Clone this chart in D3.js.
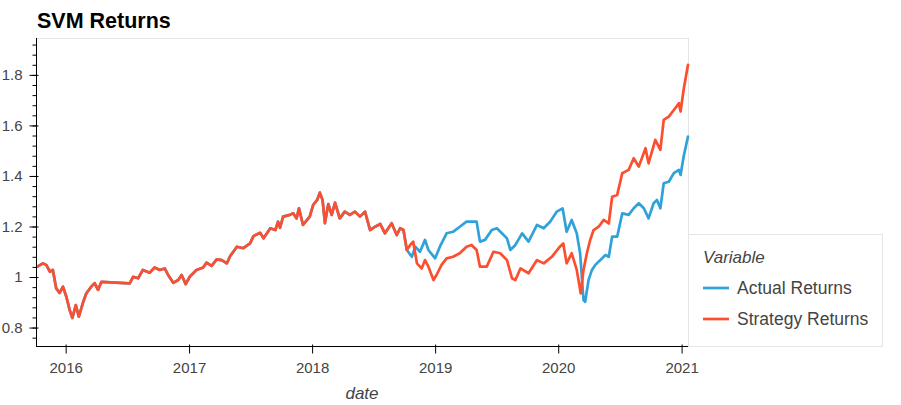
<!DOCTYPE html>
<html>
<head>
<meta charset="utf-8">
<script src="https://cdn.jsdelivr.net/npm/d3@7"></script>
<style>
  html, body { margin: 0; padding: 0; background: #fff; }
  svg { display: block; font-family: "Liberation Sans", Arial, sans-serif; }
</style>
</head>
<body>
<svg id="chart" width="901" height="405"></svg>
<script>
// ---------------- DATA ----------------
const title = "SVM Returns";
const xLabel = "date";
const legendTitle = "Variable";
const seriesNames = ["Actual Returns", "Strategy Returns"];
const seriesColors = ["#30a2da", "#fc4f30"];

// identical part of both series (before they diverge)
const sharedDates = [
  "2015-10-05","2015-10-26","2015-11-05","2015-11-15","2015-11-24","2015-12-04","2015-12-14","2015-12-24",
  "2016-01-03","2016-01-13","2016-01-21","2016-01-31","2016-02-09","2016-02-21","2016-03-02","2016-03-17",
  "2016-03-27","2016-04-06","2016-04-16","2016-07-09","2016-07-19","2016-08-03","2016-08-17","2016-09-06",
  "2016-09-21","2016-10-06","2016-10-21","2016-10-31","2016-11-15","2016-11-30","2016-12-10","2016-12-22",
  "2017-01-03","2017-01-23","2017-02-12","2017-02-22","2017-03-09","2017-03-24","2017-04-08","2017-04-23",
  "2017-05-03","2017-05-23","2017-06-11","2017-07-01","2017-07-11","2017-07-31","2017-08-10","2017-08-30",
  "2017-09-14","2017-09-22","2017-09-28","2017-10-07","2017-10-27","2017-11-06","2017-11-16","2017-11-23",
  "2017-12-05","2017-12-25","2018-01-04","2018-01-16","2018-01-24","2018-02-01","2018-02-08","2018-02-18",
  "2018-02-28","2018-03-10","2018-03-24","2018-04-08","2018-04-23","2018-05-08","2018-05-23","2018-06-07",
  "2018-06-22","2018-07-07","2018-07-22","2018-08-05","2018-08-25","2018-09-09","2018-09-19","2018-09-29",
  "2018-10-09"
];
const sharedValues = [
  1.038,1.054,1.047,1.021,1.028,0.955,0.937,0.962,
  0.922,0.869,0.838,0.889,0.843,0.897,0.935,0.962,
  0.976,0.949,0.981,0.975,1.001,0.995,1.028,1.017,
  1.038,1.028,1.034,1.008,0.977,0.988,1.008,0.972,
  1.001,1.028,1.038,1.057,1.044,1.070,1.067,1.054,
  1.083,1.120,1.114,1.133,1.162,1.175,1.153,1.193,
  1.186,1.219,1.195,1.239,1.246,1.252,1.232,1.272,
  1.206,1.239,1.285,1.305,1.334,1.305,1.213,1.289,
  1.246,1.294,1.232,1.259,1.246,1.259,1.239,1.259,
  1.186,1.199,1.210,1.173,1.213,1.166,1.193,1.186,
  1.107
];

const actualDates = [
  "2018-10-24","2018-11-03","2018-11-17","2018-12-02","2018-12-12","2019-01-01","2019-01-15","2019-02-04",
  "2019-02-23","2019-03-15","2019-04-04","2019-04-19","2019-05-04","2019-05-14","2019-05-29","2019-06-18",
  "2019-07-03","2019-07-18","2019-08-02","2019-08-12","2019-08-27","2019-09-16","2019-10-05","2019-10-30",
  "2019-11-19","2019-12-08","2019-12-28","2020-01-14","2020-01-26","2020-02-10","2020-02-25","2020-03-06",
  "2020-03-16","2020-03-21","2020-03-31","2020-04-10","2020-04-20","2020-05-05","2020-05-20","2020-05-30",
  "2020-06-09","2020-06-24","2020-07-09","2020-07-28","2020-08-12","2020-08-27","2020-09-11","2020-09-25",
  "2020-10-10","2020-10-20","2020-10-30","2020-11-09","2020-11-24","2020-12-09","2020-12-24","2020-12-29",
  "2021-01-07","2021-01-20"
];
const actualValues = [
  1.080,1.120,1.100,1.147,1.107,1.074,1.120,1.173,
  1.179,1.199,1.219,1.219,1.219,1.140,1.147,1.186,
  1.193,1.173,1.153,1.107,1.127,1.173,1.140,1.206,
  1.193,1.219,1.259,1.272,1.179,1.226,1.173,1.094,
  0.909,0.902,0.988,1.028,1.048,1.067,1.087,1.080,
  1.160,1.160,1.252,1.246,1.272,1.292,1.272,1.232,
  1.292,1.305,1.272,1.371,1.377,1.411,1.424,1.404,
  1.476,1.556
];

const strategyDates = [
  "2018-10-19","2018-10-28","2018-11-08","2018-11-22","2018-12-02","2018-12-12","2018-12-27","2019-01-05",
  "2019-01-20","2019-02-04","2019-02-23","2019-03-15","2019-04-04","2019-04-19","2019-05-04","2019-05-14",
  "2019-06-03","2019-06-23","2019-07-13","2019-08-02","2019-08-17","2019-08-27","2019-09-11","2019-10-05",
  "2019-10-30","2019-11-19","2019-12-13","2020-01-06","2020-01-16","2020-01-26","2020-02-10","2020-02-25",
  "2020-03-08","2020-03-16","2020-03-26","2020-04-05","2020-04-15","2020-04-30","2020-05-15","2020-05-30",
  "2020-06-09","2020-06-24","2020-07-09","2020-07-28","2020-08-12","2020-08-27","2020-09-16","2020-09-25",
  "2020-10-15","2020-10-30","2020-11-09","2020-11-24","2020-12-09","2020-12-24","2020-12-29","2021-01-07",
  "2021-01-20"
];
const strategyValues = [
  1.127,1.140,1.054,1.034,1.067,1.041,0.988,1.008,
  1.048,1.074,1.080,1.094,1.120,1.127,1.107,1.041,
  1.041,1.100,1.094,1.067,0.995,0.988,1.034,1.015,
  1.067,1.054,1.080,1.120,1.133,1.054,1.094,1.028,
  0.935,1.028,1.094,1.147,1.186,1.199,1.226,1.212,
  1.318,1.325,1.411,1.424,1.470,1.437,1.510,1.450,
  1.543,1.503,1.622,1.635,1.661,1.688,1.655,1.741,
  1.840
];

const yTickValues = [0.8, 1.0, 1.2, 1.4, 1.6, 1.8];
const yTickLabels = ["0.8", "1", "1.2", "1.4", "1.6", "1.8"];
const xTickYears = [2016, 2017, 2018, 2019, 2020, 2021];
const xTickLabels = ["2016", "2017", "2018", "2019", "2020", "2021"];
const yDomain = [0.727, 1.946];

// ---------------- BUILD ----------------
const parse = d3.utcParse("%Y-%m-%d");
function mk(dates, values) { return dates.map((d, i) => ({ date: parse(d), value: values[i] })); }
const series = [
  mk(sharedDates.concat(actualDates), sharedValues.concat(actualValues)),
  mk(sharedDates.concat(strategyDates), sharedValues.concat(strategyValues))
];

const svg = d3.select("#chart");
const plot = { left: 36, right: 688, top: 38, bottom: 346 };

svg.append("rect").attr("width", 901).attr("height", 405).attr("fill", "#fff");

const allDates = series.flat().map(d => d.date);
const x = d3.scaleUtc().domain(d3.extent(allDates)).range([plot.left, plot.right]);
const y = d3.scaleLinear().domain(yDomain).range([plot.bottom, plot.top]);

// plot outline
svg.append("rect")
  .attr("x", plot.left + 0.5).attr("y", plot.top + 0.5)
  .attr("width", plot.right - plot.left).attr("height", plot.bottom - plot.top)
  .attr("fill", "none").attr("stroke", "#e5e5e5").attr("stroke-width", 1);

// lines
svg.append("clipPath").attr("id", "clip").append("rect")
  .attr("x", plot.left).attr("y", plot.top)
  .attr("width", plot.right - plot.left + 2).attr("height", plot.bottom - plot.top);
const line = d3.line().x(d => x(d.date)).y(d => y(d.value));
const lg = svg.append("g").attr("clip-path", "url(#clip)");
series.forEach((s, i) => {
  lg.append("path").datum(s)
    .attr("d", line)
    .attr("fill", "none")
    .attr("stroke", seriesColors[i])
    .attr("stroke-width", 2.7)
    .attr("stroke-linejoin", "round")
    .attr("stroke-linecap", "round");
});

// y axis
const yMinor = d3.range(0.76, 1.93, 0.04).map(v => +v.toFixed(2))
  .filter(v => v >= yDomain[0] && v <= yDomain[1]);
const yMinorAxis = svg.append("g").attr("transform", `translate(${plot.left + 0.5},0)`)
  .call(d3.axisLeft(y).tickValues(yMinor).tickSize(4).tickSizeOuter(0).tickFormat(""));
yMinorAxis.select(".domain").remove();
yMinorAxis.selectAll("line").attr("stroke", "#000");

const yAxis = svg.append("g").attr("transform", `translate(${plot.left + 0.5},0)`)
  .call(d3.axisLeft(y).tickValues(yTickValues).tickSize(7).tickSizeOuter(0).tickPadding(6)
    .tickFormat((d, i) => yTickLabels[i]));
yAxis.select(".domain").attr("stroke", "#000").attr("d", `M0,${plot.top}V${plot.bottom + 0.5}`);
yAxis.selectAll(".tick line").attr("stroke", "#000").attr("x1", 2);
yAxis.selectAll(".tick text").attr("fill", "#444").style("font-size", "15px")
  .attr("font-family", "Liberation Sans, Arial, sans-serif").attr("x", -14);

// x axis
const xTickDates = xTickYears.map(yv => new Date(Date.UTC(yv, 0, 1)));
const xAxis = svg.append("g").attr("transform", `translate(0,${plot.bottom + 0.5})`)
  .call(d3.axisBottom(x).tickValues(xTickDates).tickSize(7).tickSizeOuter(0).tickPadding(9)
    .tickFormat((d, i) => xTickLabels[i]));
xAxis.select(".domain").attr("stroke", "#000").attr("d", `M${plot.left},0H${plot.right}`);
xAxis.selectAll(".tick line").attr("stroke", "#000").attr("y1", -2);
xAxis.selectAll(".tick text").attr("fill", "#444").style("font-size", "15px")
  .attr("font-family", "Liberation Sans, Arial, sans-serif");

// axis label
svg.append("text")
  .attr("x", (plot.left + plot.right) / 2).attr("y", 399)
  .attr("text-anchor", "middle")
  .attr("fill", "#444").style("font-size", "17px").style("font-style", "italic")
  .text(xLabel);

// title
svg.append("text")
  .attr("x", 37).attr("y", 28)
  .attr("fill", "#000").style("font-size", "21.5px").style("font-weight", "bold")
  .text(title);

// legend
const leg = svg.append("g");
leg.append("rect")
  .attr("x", 688.5).attr("y", 234.5).attr("width", 194).attr("height", 112)
  .attr("fill", "#fff").attr("stroke", "#e5e5e5");
leg.append("text")
  .attr("x", 703).attr("y", 263)
  .attr("fill", "#444").style("font-size", "17px").style("font-style", "italic")
  .text(legendTitle);
seriesNames.forEach((name, i) => {
  const cy = 288 + i * 31;
  leg.append("line").attr("x1", 703).attr("x2", 729).attr("y1", cy).attr("y2", cy)
    .attr("stroke", seriesColors[i]).attr("stroke-width", 2.7);
  leg.append("text").attr("x", 737).attr("y", cy + 6)
    .attr("fill", "#444").style("font-size", "17.5px")
    .text(name);
});
</script>
</body>
</html>
